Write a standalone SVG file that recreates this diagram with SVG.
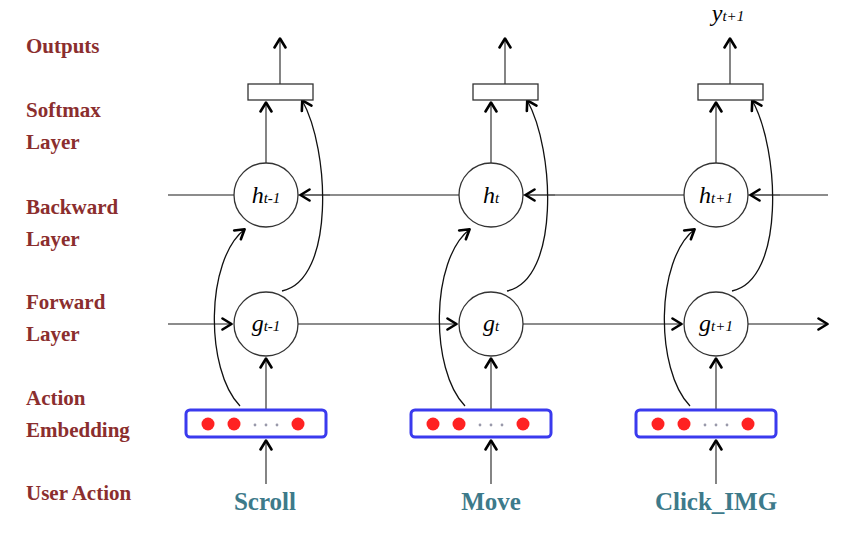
<svg xmlns="http://www.w3.org/2000/svg" width="842" height="544" viewBox="0 0 842 544">
<style>
.lbl{font-family:"Liberation Serif",serif;font-weight:bold;font-size:21px;fill:#8b2e2e}
.act{font-family:"Liberation Serif",serif;font-weight:bold;font-size:25px;fill:#3d7a8a;text-anchor:middle}
.ln{stroke:#666;stroke-width:1.6;fill:none}
.cv{stroke:#111;stroke-width:1.3;fill:none}
.nd{fill:#fff;stroke:#333;stroke-width:1.3}
.mt{font-family:"Liberation Serif",serif;font-style:italic;font-size:24px;text-anchor:middle}
.sb{font-size:15px}
.ah{stroke:#000;stroke-width:2.6;fill:none;stroke-linecap:round;stroke-linejoin:round}
</style>
<defs>
<marker id="a" viewBox="0 0 12 14" refX="11" refY="7" markerWidth="12" markerHeight="14" markerUnits="userSpaceOnUse" orient="auto"><path d="M1.5,1.5 L10.5,7 L1.5,12.5" class="ah"/></marker>
<g id="col">
<rect class="nd" x="-18" y="84" width="65" height="16"/>
<rect x="-80" y="410" width="140" height="27" rx="4" fill="#fff" stroke="#3a3aee" stroke-width="3"/>
<circle cx="-58" cy="424" r="6.5" fill="#f22"/><circle cx="-32" cy="424" r="6.5" fill="#f22"/><circle cx="32" cy="424" r="6.5" fill="#f22"/>
<circle cx="-11" cy="425" r="1.4" fill="#99a"/><circle cx="0" cy="425" r="1.4" fill="#99a"/><circle cx="11" cy="425" r="1.4" fill="#99a"/>
</g>
</defs>
<g id="labels">
<text class="lbl" x="26" y="53">Outputs</text>
<text class="lbl" x="26" y="117">Softmax</text>
<text class="lbl" x="26" y="149">Layer</text>
<text class="lbl" x="26" y="214">Backward</text>
<text class="lbl" x="26" y="246">Layer</text>
<text class="lbl" x="26" y="309">Forward</text>
<text class="lbl" x="26" y="341">Layer</text>
<text class="lbl" x="26" y="405">Action</text>
<text class="lbl" x="26" y="437">Embedding</text>
<text class="lbl" x="26" y="500">User Action</text>
</g>
<g id="connectors">
<line class="ln" x1="168" y1="195" x2="828" y2="195"/>
<line class="ln" x1="168" y1="324" x2="232" y2="324" marker-end="url(#a)"/>
<line class="ln" x1="298" y1="324" x2="457" y2="324" marker-end="url(#a)"/>
<line class="ln" x1="523" y1="324" x2="682" y2="324" marker-end="url(#a)"/>
<line class="ln" x1="748" y1="324" x2="828" y2="324" marker-end="url(#a)"/>
<g id="c1">
<line class="ln" x1="330" y1="195" x2="300" y2="195" marker-end="url(#a)"/>
<line class="ln" x1="266" y1="163" x2="266" y2="102" marker-end="url(#a)"/>
<line class="ln" x1="280" y1="84" x2="280" y2="38" marker-end="url(#a)"/>
<line class="ln" x1="266" y1="410" x2="266" y2="358" marker-end="url(#a)"/>
<line class="ln" x1="266" y1="484" x2="266" y2="440" marker-end="url(#a)"/>
<path class="cv" d="M240,406 C205,370 205,260 245,229" marker-end="url(#a)"/>
<path class="cv" d="M282,291 C335,280 330,150 302,100" marker-end="url(#a)"/>
</g>
<use href="#c1" x="225"/>
<use href="#c1" x="450"/>
</g>
<g id="col1"><use href="#col" x="266"/></g>
<g id="col2"><use href="#col" x="491"/></g>
<g id="col3"><use href="#col" x="716"/></g>
<g id="h1"><circle class="nd" cx="266" cy="195" r="32"/><text class="mt" x="266" y="203">h<tspan class="sb">t-1</tspan></text></g>
<g id="h2"><circle class="nd" cx="491" cy="195" r="32"/><text class="mt" x="491" y="203">h<tspan class="sb">t</tspan></text></g>
<g id="h3"><circle class="nd" cx="716" cy="195" r="32"/><text class="mt" x="716" y="203">h<tspan class="sb">t+1</tspan></text></g>
<g id="g1"><circle class="nd" cx="266" cy="324" r="32"/><text class="mt" x="266" y="331">g<tspan class="sb">t-1</tspan></text></g>
<g id="g2"><circle class="nd" cx="491" cy="324" r="32"/><text class="mt" x="491" y="331">g<tspan class="sb">t</tspan></text></g>
<g id="g3"><circle class="nd" cx="716" cy="324" r="32"/><text class="mt" x="716" y="331">g<tspan class="sb">t+1</tspan></text></g>
<g id="y"><text class="mt" x="728" y="21">y<tspan class="sb">t+1</tspan></text></g>
<g id="actions">
<text class="act" x="265" y="510">Scroll</text>
<text class="act" x="491" y="510">Move</text>
<text class="act" x="716" y="510">Click_IMG</text>
</g>
</svg>
